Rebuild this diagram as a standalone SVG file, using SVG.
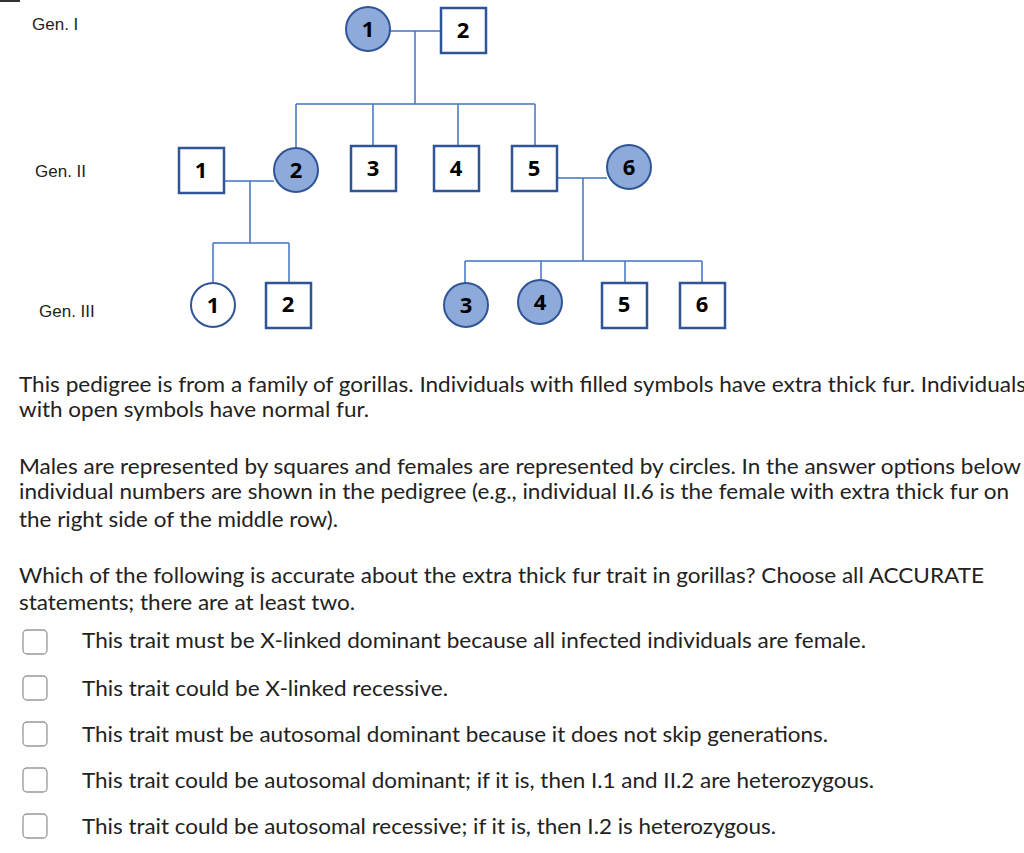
<svg xmlns="http://www.w3.org/2000/svg" width="1024" height="853" viewBox="0 0 1024 853">
<style>
.lab{font-family:"Liberation Sans",Arial,sans-serif;font-size:17px;fill:#222}
.n{font-family:"Open Sans","Liberation Sans",sans-serif;font-size:22px;font-weight:bold;fill:#000;text-anchor:middle}
.sq{fill:#fff;stroke:#2f5597;stroke-width:2.5}
.op{fill:#fff;stroke:#2f5597;stroke-width:2}
.fl{fill:#8eaadb;stroke:#2f5597;stroke-width:2}
.c{fill:none;stroke:#4472c4;stroke-width:1.5}
.t{font-family:Lato,"Open Sans",sans-serif;font-size:21px;fill:#222;lengthAdjust:spacingAndGlyphs}
.cb{fill:#fff;stroke:#999;stroke-width:1.3}
</style>
<rect width="1024" height="853" fill="#fff"/>
<line x1="0" y1="1" x2="20" y2="1" stroke="#333" stroke-width="2"/>
<text class="lab" x="32" y="30">Gen. I</text>
<text class="lab" x="35" y="177">Gen. II</text>
<text class="lab" x="39" y="317">Gen. III</text>
<g id="connectors" class="c">
<path d="M390 31H441M415 31V104M296 104H535M296 104V148M373 104V146M458 104V146M535 104V146"/>
<path d="M224 181H274M250 181V243M213 243H289M213 243V283M289 243V283"/>
<path d="M557 178H607M583 178V261M465 261H702M465 261V283M541 261V281M625 261V283M702 261V283"/>
</g>
<g id="I1"><circle class="fl" cx="368" cy="29" r="22"/><text class="n" x="368" y="37">1</text></g>
<g id="I2"><rect class="sq" x="441" y="8" width="45" height="45"/><text class="n" x="463" y="38">2</text></g>
<g id="II1"><rect class="sq" x="179" y="148" width="45" height="45"/><text class="n" x="201" y="178">1</text></g>
<g id="II2"><circle class="fl" cx="296" cy="170" r="22"/><text class="n" x="296" y="178">2</text></g>
<g id="II3"><rect class="sq" x="351" y="146" width="45" height="45"/><text class="n" x="373" y="176">3</text></g>
<g id="II4"><rect class="sq" x="434" y="146" width="45" height="45"/><text class="n" x="456" y="176">4</text></g>
<g id="II5"><rect class="sq" x="512" y="146" width="45" height="45"/><text class="n" x="534" y="176">5</text></g>
<g id="II6"><circle class="fl" cx="629" cy="167" r="22"/><text class="n" x="629" y="175">6</text></g>
<g id="III1"><circle class="op" cx="213" cy="305" r="22"/><text class="n" x="213" y="313">1</text></g>
<g id="III2"><rect class="sq" x="266" y="283" width="45" height="45"/><text class="n" x="288" y="312">2</text></g>
<g id="III3"><circle class="fl" cx="466" cy="305" r="22"/><text class="n" x="466" y="313">3</text></g>
<g id="III4"><circle class="fl" cx="540" cy="302" r="22"/><text class="n" x="540" y="310">4</text></g>
<g id="III5"><rect class="sq" x="602" y="283" width="45" height="45"/><text class="n" x="624" y="312">5</text></g>
<g id="III6"><rect class="sq" x="680" y="283" width="45" height="45"/><text class="n" x="702" y="312">6</text></g>
<text class="t" x="19" y="392" textLength="1007" lengthAdjust="spacingAndGlyphs">This pedigree is from a family of gorillas. Individuals with filled symbols have extra thick fur. Individuals</text>
<text class="t" x="19" y="417" textLength="350" lengthAdjust="spacingAndGlyphs">with open symbols have normal fur.</text>
<text class="t" x="19" y="474" textLength="1002" lengthAdjust="spacingAndGlyphs">Males are represented by squares and females are represented by circles. In the answer options below</text>
<text class="t" x="19" y="499" textLength="990" lengthAdjust="spacingAndGlyphs">individual numbers are shown in the pedigree (e.g., individual II.6 is the female with extra thick fur on</text>
<text class="t" x="19" y="527" textLength="319" lengthAdjust="spacingAndGlyphs">the right side of the middle row).</text>
<text class="t" x="19" y="583" textLength="965" lengthAdjust="spacingAndGlyphs">Which of the following is accurate about the extra thick fur trait in gorillas? Choose all ACCURATE</text>
<text class="t" x="19" y="610" textLength="336" lengthAdjust="spacingAndGlyphs">statements; there are at least two.</text>
<g id="options">
<rect class="cb" x="23" y="630" width="24" height="24" rx="4"/>
<rect class="cb" x="23" y="676" width="24" height="24" rx="4"/>
<rect class="cb" x="23" y="722" width="24" height="24" rx="4"/>
<rect class="cb" x="23" y="768" width="24" height="24" rx="4"/>
<rect class="cb" x="23" y="814" width="24" height="24" rx="4"/>
<text class="t" x="82" y="648" textLength="784" lengthAdjust="spacingAndGlyphs">This trait must be X-linked dominant because all infected individuals are female.</text>
<text class="t" x="82" y="696" textLength="366" lengthAdjust="spacingAndGlyphs">This trait could be X-linked recessive.</text>
<text class="t" x="82" y="742" textLength="746" lengthAdjust="spacingAndGlyphs">This trait must be autosomal dominant because it does not skip generations.</text>
<text class="t" x="82" y="788" textLength="792" lengthAdjust="spacingAndGlyphs">This trait could be autosomal dominant; if it is, then I.1 and II.2 are heterozygous.</text>
<text class="t" x="82" y="834" textLength="694" lengthAdjust="spacingAndGlyphs">This trait could be autosomal recessive; if it is, then I.2 is heterozygous.</text>
</g>
</svg>
